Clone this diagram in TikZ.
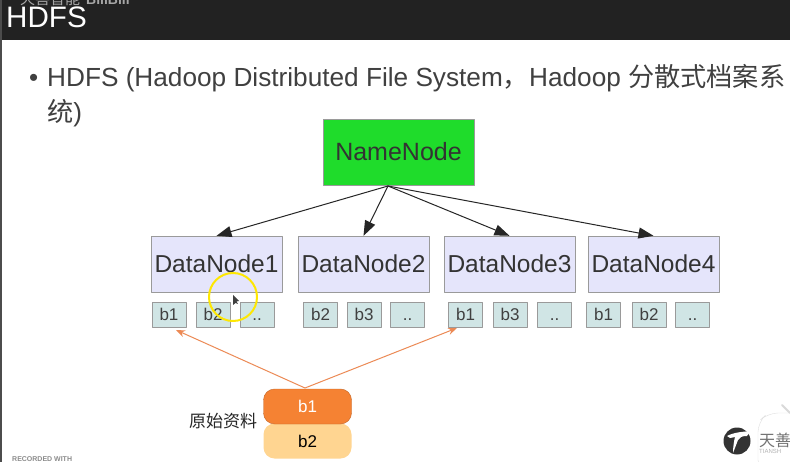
\documentclass[tikz,border=0pt]{standalone}
\usepackage{fontspec}
\setmainfont{Liberation Sans}
\newfontfamily\cjk{Noto Sans CJK SC}
\usetikzlibrary{arrows,arrows.meta}
\definecolor{barcolor}{HTML}{222222}
\definecolor{namegreen}{HTML}{1FDC2B}
\definecolor{datafill}{HTML}{E5E5FB}
\definecolor{blockfill}{HTML}{D0E5E5}
\definecolor{boxline}{HTML}{9A9A9A}
\definecolor{arroworange}{HTML}{EC8A55}
\definecolor{orangeb}{HTML}{F58233}
\definecolor{paleb}{HTML}{FFD591}
\tikzset{
  namebox/.style={draw=boxline,fill=namegreen,minimum width=151pt,minimum height=66pt,inner sep=0pt,text=black!80,font=\fontsize{25}{25}\selectfont},
  databox/.style={draw=boxline,fill=datafill,minimum width=131pt,minimum height=56pt,inner sep=0pt,text=black!80,font=\fontsize{24.5}{25}\selectfont},
  blockbox/.style={draw=boxline,fill=blockfill,minimum width=34pt,minimum height=25pt,inner sep=0pt,text height=12pt,text depth=0pt,font=\fontsize{17}{17}\selectfont,text=black!75},
  rawblock/.style={minimum width=88pt,minimum height=35pt,inner sep=0pt,rounded corners=11pt,font=\fontsize{17}{17}\selectfont}
}
\begin{document}
\begin{tikzpicture}[line cap=round,line join=round,>=triangle 45,x=1pt,y=-1pt]
\useasboundingbox (0,0) rectangle (790,462);
\fill[white] (0,0) rectangle (790,462);
%title bar
\fill[barcolor] (0,0) rectangle (790,40);
\fill[black!70] (0,0) rectangle (2,462);
\node [text=white,font=\fontsize{29.6}{30}\selectfont,anchor=base west,inner sep=0pt] (title) at (6,28) {HDFS};
\node [text=black!35,font=\cjk\fontsize{15}{15}\selectfont,anchor=base west,inner sep=0pt] (brand) at (20,5) {天善智能};
\node [text=black!35,font=\bfseries\fontsize{14}{14}\selectfont,anchor=base west,inner sep=0pt] (site) at (86,5) {BiliBili};
%bullet text
\node [text=black!75,font=\fontsize{26}{26}\selectfont,anchor=base west,inner sep=0pt] (dot) at (29,87) {•};
\node [text=black!75,font=\fontsize{26.2}{27}\selectfont,anchor=base west,inner sep=0pt] (line1) at (47,87) {HDFS (Hadoop Distributed File System{\cjk ，}Hadoop {\cjk 分散式档案系}};
\node [text=black!75,font=\fontsize{26.2}{27}\selectfont,anchor=base west,inner sep=0pt] (line2) at (47,122) {{\cjk 统})};

%name node and data nodes
\node [namebox] (name) at (398.5,152) {NameNode};
\foreach \n/\x in {1/216.5,2/363.5,3/509.5,4/653.5}
{
\node [databox] (data\n) at (\x,264) {DataNode\n};
}
\coordinate (nameout) at (388,186);
\foreach \n in {1,2,3,4}
{
\draw [-{Triangle[length=15pt,width=11pt]},line width=1pt,black!85] (nameout) -- (data\n.north);
}

%blocks under the data nodes
\foreach \n/\x/\t in {a1/169/b1,a2/213/b2,a3/257/..,b1/320.5/b2,b2/364/b3,b3/407.5/..,c1/465.5/b1,c2/510/b3,c3/554.5/..,d1/603.5/b1,d2/649/b2,d3/692.5/..}
{
\node [blockbox] (block\n) at (\x,314.5) {\t};
}

%original data
\node [rawblock,fill=paleb] (rawtwo) at (307.5,441) {b2};
\node [rawblock,draw=orangeb!80!black,fill=orangeb,text=white] (rawone) at (307.5,406.5) {b1};
\node [font=\cjk\fontsize{17}{17}\selectfont,text=black!85,inner sep=0pt] (rawlabel) at (223,421) {原始资料};
\coordinate (rawout) at (305,388);
\coordinate (left) at (176,330);
\coordinate (right) at (457,328);
\draw [-{Stealth[length=9pt,width=7pt]},line width=1pt,arroworange] (rawout) -- (left);
\draw [-{Stealth[length=9pt,width=7pt]},line width=1pt,arroworange] (rawout) -- (right);

%pointer circle
\draw [yellow!90!orange,line width=2pt] (233,297) circle [radius=24];
\fill [black!75] (233,295) -- (233,305) -- (235.5,303) -- (238,304) -- (236.5,301.5) -- (239,301) -- cycle;

%marks in the corners
\node [text=black!45,font=\bfseries\fontsize{7}{7}\selectfont,anchor=base west,inner sep=0pt] (recorded) at (12,461) {RECORDED WITH};
\draw [black!12,fill=white,rounded corners=10pt] (758,470) -- (758,422) -- (768,413) -- (800,413) -- (800,470) -- cycle;
\draw [black!15,line width=2pt] (782,405) -- (790,413);
\fill [black!80] (737,441) circle [radius=13.5];
\fill [white] (727,436) .. controls (735,432) and (742,432) .. (750,431) -- (747,436) .. controls (742,436) and (740,437) .. (738,440) -- (733,453) .. controls (733,447) and (734,441) .. (735,437) -- (730,438) -- cycle;
\node [text=black!55,font=\cjk\fontsize{16}{16}\selectfont,anchor=base west,inner sep=0pt] (logo) at (759,446) {天善};
\node [text=black!30,font=\fontsize{6}{6}\selectfont,anchor=base west,inner sep=0pt] (logosub) at (759,453) {TIANSH};
\end{tikzpicture}
\end{document}
